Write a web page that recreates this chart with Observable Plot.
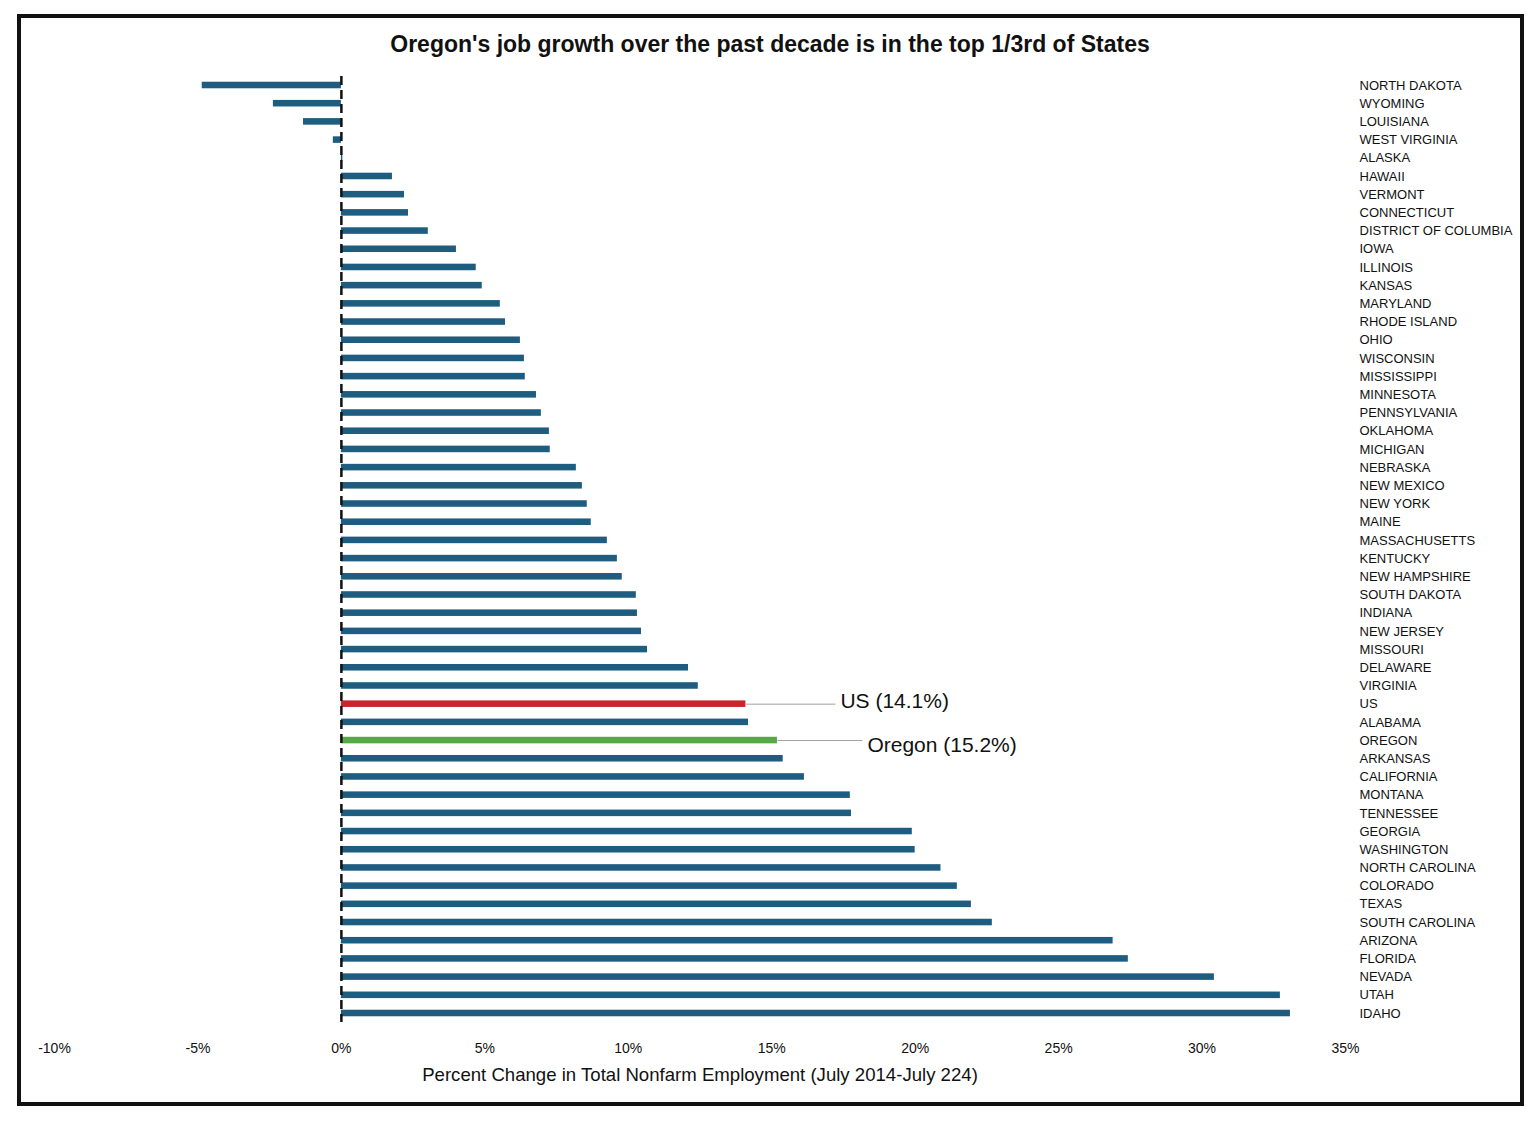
<!DOCTYPE html>
<html>
<head>
<meta charset="utf-8">
<script src="https://cdn.jsdelivr.net/npm/d3@7"></script>
<script src="https://cdn.jsdelivr.net/npm/@observablehq/plot@0.6"></script>
<style>
  html, body { margin: 0; padding: 0; background: #fff; }
  body {
    width: 1540px; height: 1123px; position: relative; overflow: hidden;
    font-family: "Liberation Sans", Arial, Helvetica, sans-serif; color: #111;
  }
  #chart { position: absolute; left: 0; top: 60px; }
  #title {
    position: absolute; left: 0; top: 31px; width: 1540px; text-align: center;
    font-weight: bold; font-size: 23px; color: #111;
  }
  #frame {
    position: absolute; left: 17px; top: 14px; width: 1507px; height: 1092px;
    box-sizing: border-box; border: 4px solid #111; pointer-events: none;
  }
  g[aria-label="annotation"] text { letter-spacing: -0.1px; }
  g[aria-label="x-axis label"] text { font-size: 18.6px; }
</style>
</head>
<body>
<div id="title">Oregon's job growth over the past decade is in the top 1/3rd of States</div>
<div id="chart"></div>
<div id="frame"></div>
<script>
// Percent change in total nonfarm employment, July 2014 – July 2024, lowest to highest
const states = [
  "NORTH DAKOTA", "WYOMING", "LOUISIANA", "WEST VIRGINIA", "ALASKA", "HAWAII",
  "VERMONT", "CONNECTICUT", "DISTRICT OF COLUMBIA", "IOWA", "ILLINOIS", "KANSAS",
  "MARYLAND", "RHODE ISLAND", "OHIO", "WISCONSIN", "MISSISSIPPI", "MINNESOTA",
  "PENNSYLVANIA", "OKLAHOMA", "MICHIGAN", "NEBRASKA", "NEW MEXICO", "NEW YORK",
  "MAINE", "MASSACHUSETTS", "KENTUCKY", "NEW HAMPSHIRE", "SOUTH DAKOTA", "INDIANA",
  "NEW JERSEY", "MISSOURI", "DELAWARE", "VIRGINIA", "US", "ALABAMA",
  "OREGON", "ARKANSAS", "CALIFORNIA", "MONTANA", "TENNESSEE", "GEORGIA",
  "WASHINGTON", "NORTH CAROLINA", "COLORADO", "TEXAS", "SOUTH CAROLINA", "ARIZONA",
  "FLORIDA", "NEVADA", "UTAH", "IDAHO"
];
const growth = [
  -4.85, -2.37, -1.32, -0.28, 0.05, 1.78,
  2.2, 2.34, 3.03, 4.01, 4.7, 4.91,
  5.54, 5.72, 6.24, 6.38, 6.41, 6.8,
  6.97, 7.25, 7.28, 8.19, 8.4, 8.57,
  8.71, 9.27, 9.62, 9.79, 10.28, 10.32,
  10.46, 10.67, 12.1, 12.44, 14.1, 14.19,
  15.2, 15.4, 16.14, 17.74, 17.78, 19.9,
  20.0, 20.9, 21.47, 21.96, 22.69, 26.9,
  27.43, 30.43, 32.73, 33.08
];

// Highlighted rows and their callouts
const highlightNames = ["US", "OREGON"];
const highlightColors = ["#c8262c", "#57a846"];
const calloutLabels = ["US (14.1%)", "Oregon (15.2%)"];
const calloutGaps = [3.12, 2.96];      // leader length, in percentage points
const calloutShift = [-3, 5];          // vertical nudge of the callout text, px

const xTicks = [-10, -5, 0, 5, 10, 15, 20, 25, 30, 35];
const xLabel = "Percent Change in Total Nonfarm Employment (July 2014-July 224)";
const barColor = "#1e5d80";

const rows = states.map((state, i) => ({
  state,
  value: growth[i],
  kind: highlightNames.includes(state) ? state : "STATE"
}));

const callouts = highlightNames.map((name, i) => ({
  state: name,
  value: growth[states.indexOf(name)],
  end: growth[states.indexOf(name)] + calloutGaps[i],
  label: calloutLabels[i],
  shift: calloutShift[i]
}));

const chart = Plot.plot({
  width: 1540,
  height: 1040,
  marginLeft: 54,
  marginRight: 195,
  marginTop: 15.9,
  marginBottom: 77.9,
  style: {
    background: "transparent",
    fontFamily: "'Liberation Sans', Arial, Helvetica, sans-serif",
    color: "#111",
    overflow: "visible"
  },
  x: {domain: [-10, 35]},
  y: {domain: states, paddingInner: 0.64, paddingOuter: 0.32, round: false, axis: null},
  color: {domain: ["STATE", ...highlightNames], range: [barColor, ...highlightColors]},
  marks: [
    Plot.barX(rows, {x: "value", y: "state", fill: "kind"}),
    Plot.ruleX([0], {stroke: "#111", strokeWidth: 2.5, strokeDasharray: "9,5"}),
    Plot.axisX({
      ticks: xTicks,
      tickSize: 0,
      tickPadding: 20,
      tickFormat: d => `${d}%`,
      fontSize: 14,
      label: xLabel,
      labelAnchor: "center",
      labelArrow: "none",
      labelOffset: 58
    }),
    Plot.text(rows, {
      y: "state",
      text: "state",
      frameAnchor: "right",
      textAnchor: "start",
      dx: 14,
      fontSize: 13,
      fill: "#111"
    }),
    Plot.link(callouts, {
      x1: "value", x2: "end", y1: "state", y2: "state",
      stroke: "#a0a0a0", strokeWidth: 1
    }),
    ...callouts.map(c => Plot.text([c], {
      x: "end",
      y: "state",
      dy: c.shift,
      text: "label",
      textAnchor: "start",
      dx: 5,
      fontSize: 21,
      fill: "#111",
      ariaLabel: "annotation"
    }))
  ]
});

document.getElementById("chart").append(chart);
</script>
</body>
</html>
